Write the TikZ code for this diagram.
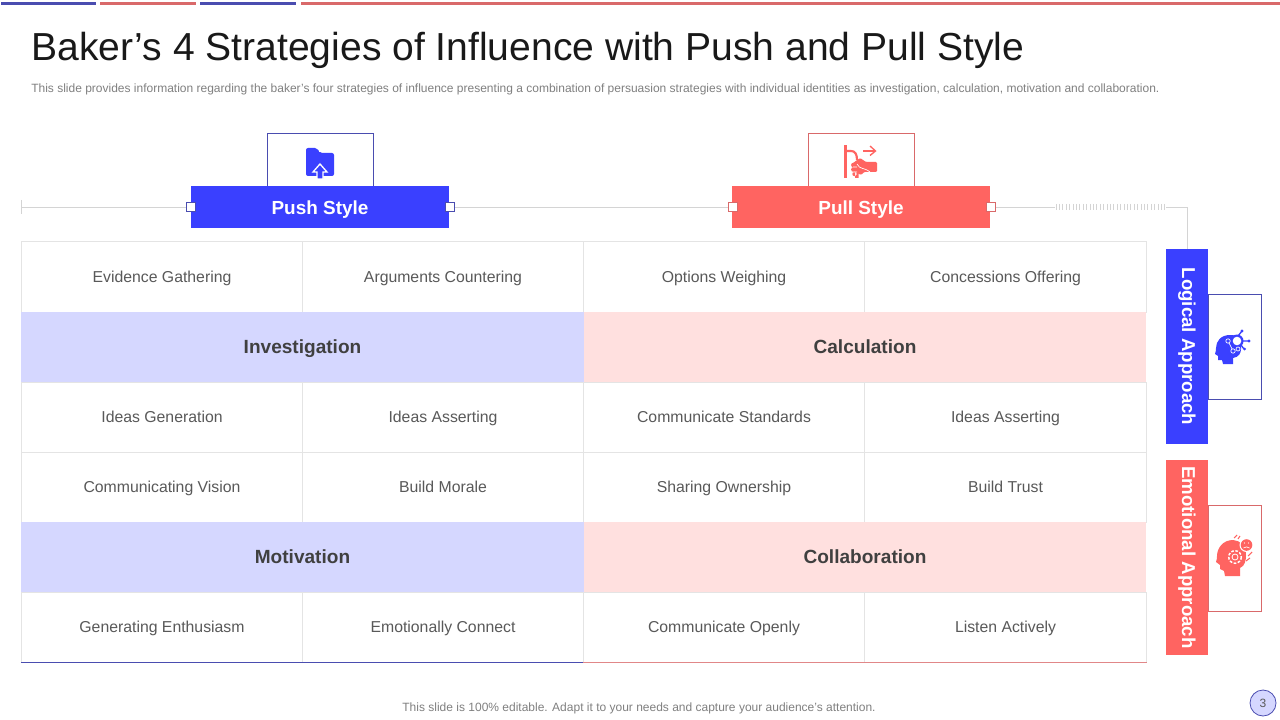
\documentclass[tikz,border=0pt]{standalone}
\usepackage{fontspec}
\setmainfont{Liberation Sans}
\definecolor{bluemain}{HTML}{3A40FF}
\definecolor{redmain}{HTML}{FF6461}
\definecolor{bluedark}{HTML}{4A4DB0}
\definecolor{reddark}{HTML}{D9696A}
\definecolor{bluelight}{HTML}{D5D7FF}
\definecolor{redlight}{HTML}{FFE0DF}
\definecolor{gridc}{HTML}{E4E4E4}
\definecolor{linec}{HTML}{D4D4D4}
\definecolor{textc}{HTML}{595959}
\definecolor{headc}{HTML}{404040}
\definecolor{subc}{HTML}{7F7F7F}
\tikzset{
  x=0.75pt,y=-0.75pt,
  cell/.style={draw=gridc,line width=0.75pt,fill=white,minimum width=281.25*0.75pt,minimum height=70*0.75pt,inner sep=0pt,text=textc,text height=11.2pt,text depth=2.5pt,font=\fontsize{11.85pt}{14pt}\selectfont,anchor=center},
  headbox/.style={minimum width=562.5*0.75pt,minimum height=70*0.75pt,inner sep=0pt,text=headc,text height=12.7pt,text depth=3pt,font=\fontsize{14.3pt}{17pt}\selectfont\bfseries,anchor=center},
  stylebox/.style={minimum width=258*0.75pt,minimum height=42*0.75pt,inner sep=0pt,text=white,text height=14.3pt,text depth=3pt,font=\fontsize{14.2pt}{17pt}\selectfont\bfseries,anchor=center},
  appbox/.style={minimum width=195*0.75pt,minimum height=42*0.75pt,inner sep=0pt,text=white,rotate=-90,text height=10.5pt,text depth=3pt,font=\fontsize{14pt}{17pt}\selectfont\bfseries,anchor=center},
  iconframe/.style={fill=white,line width=0.7pt,inner sep=0pt,anchor=center},
  port/.style={fill=white,line width=0.6pt,minimum size=9*0.75pt,inner sep=0pt,anchor=center},
  conn/.style={draw=linec,line width=0.6pt},
  topbar/.style={line width=2.4pt},
}
\begin{document}
\begin{tikzpicture}
\useasboundingbox (0,0) rectangle (1280,720);
% top bars
\draw[topbar,bluedark] (1,3.8) -- (96,3.8);
\draw[topbar,reddark] (100,3.8) -- (196,3.8);
\draw[topbar,bluedark] (200,3.8) -- (296,3.8);
\draw[topbar,reddark] (301,3.8) -- (1280,3.8);
% title
\node[anchor=west,inner sep=0pt,text=black!90,font=\fontsize{29.3pt}{34pt}\selectfont] (title) at (31,50.5) {Baker’s 4 Strategies of Influence with Push and Pull Style};
\node[anchor=west,inner sep=0pt,text=subc,font=\fontsize{9pt}{11pt}\selectfont] (sub) at (31,89.5) {This slide provides information regarding the baker’s four strategies of influence presenting a combination of persuasion strategies with individual identities as investigation, calculation, motivation and collaboration.};
% icon frames
\node[iconframe,draw=bluedark,minimum width=106*0.75pt,minimum height=53*0.75pt] (pushframe) at (320,159.5) {};
\node[iconframe,draw=reddark,minimum width=106*0.75pt,minimum height=53*0.75pt] (pullframe) at (861,159.5) {};
\node[iconframe,draw=bluedark,minimum width=53*0.75pt,minimum height=105*0.75pt] (logframe) at (1234.5,346.5) {};
\node[iconframe,draw=reddark,minimum width=53*0.75pt,minimum height=106*0.75pt] (emoframe) at (1234.5,558) {};
% style boxes
\node[stylebox,fill=bluemain] (push) at (320,207) {Push Style};
\node[stylebox,fill=redmain] (pull) at (861,207) {Pull Style};
\node[appbox,fill=bluemain] (logical) at (1187,346.5) {Logical Approach};
\node[appbox,fill=redmain] (emotional) at (1187,557.5) {Emotional Approach};
% connectors
\coordinate (lstart) at (21,207);
\coordinate (corner) at (1187,207);
\draw[conn] (21,200) -- (21,214);
\draw[conn] (lstart) -- (push.west);
\draw[conn] (push.east) -- (pull.west);
\draw[conn] (pull.east) -- (corner) -- (logical.west);
\fill[white] (1055,203) rectangle (1166,211);
\foreach \i in {0,...,32} {\draw[linec,line width=0.5pt] ({1056+3.4*\i},204) -- ({1056+3.4*\i},210);}
% ports
\node[port,draw=bluedark] (p1) at (191,207) {};
\node[port,draw=bluedark] (p2) at (449.5,207) {};
\node[port,draw=reddark] (p3) at (732.5,207) {};
\node[port,draw=reddark] (p4) at (991,207) {};
% table
\foreach \n/\x/\y/\t in {
a1/162/277/Evidence Gathering, a2/443/277/Arguments Countering, a3/724/277/Options Weighing, a4/1005.5/277/Concessions Offering,
b1/162/417/Ideas Generation, b2/443/417/Ideas Asserting, b3/724/417/Communicate Standards, b4/1005.5/417/Ideas Asserting,
c1/162/487/Communicating Vision, c2/443/487/Build Morale, c3/724/487/Sharing Ownership, c4/1005.5/487/Build Trust,
d1/162/627/Generating Enthusiasm, d2/443/627/Emotionally Connect, d3/724/627/Communicate Openly, d4/1005.5/627/Listen Actively}
{\node[cell] (\n) at (\x,\y) {\t};}
\node[headbox,fill=bluelight] (inv) at (302.5,347) {Investigation};
\node[headbox,fill=redlight] (calc) at (865,347) {Calculation};
\node[headbox,fill=bluelight] (mot) at (302.5,557) {Motivation};
\node[headbox,fill=redlight] (coll) at (865,557) {Collaboration};
\draw[bluedark,line width=0.9pt] (d1.south west) -- (d2.south east);
\draw[reddark!80,line width=0.9pt] (d3.south west) -- (d4.south east);
% footer
\node[anchor=center,inner sep=0pt,text=subc,font=\fontsize{9pt}{11pt}\selectfont] (foot) at (639,708) {This slide is 100\% editable. Adapt it to your needs and capture your audience's attention.};
\node[circle,draw=bluedark,fill=bluelight,line width=0.6pt,minimum size=26*0.75pt,inner sep=0pt,text=textc,font=\fontsize{9pt}{11pt}\selectfont] (page) at (1263,703) {3};
% folder icon
\fill[bluemain,rounded corners=1.5] (306,148) -- (317,148) -- (320,153) -- (334,153) -- (334,176) -- (306,176) -- cycle;
\draw[white,line width=0.7pt] (319,151) -- (334,151);
\fill[bluemain] (316,150) -- (320,153) -- (316,153) -- cycle;
\draw[white,line width=1pt,fill=bluemain,line join=miter] (320,164) -- (327,172) -- (323,172) -- (323,179) -- (317,179) -- (317,172) -- (313,172) -- cycle;
\fill[white] (306,178) rectangle (316,179);
% pull icon
\fill[redmain] (844,145) rectangle (846.5,178);
\draw[redmain,line width=1.6pt] (846,151) -- (851,151) .. controls (855,151) and (857,154) .. (857,160);
\draw[redmain,line width=1pt] (863,151) -- (875,151);
\draw[redmain,line width=1pt] (870,146) -- (875.5,151) -- (870,155.5);
\fill[redmain,rounded corners=0.8] (860,158) -- (866,162) -- (877,162) -- (877,172) -- (864,172) -- (861,175) -- (855,172) -- (853,163) -- cycle;
\fill[redmain] (853.5,165) circle (2.4) (853.5,169.5) circle (2.4) (854.5,174) circle (2.2) (855,172) rectangle (858.5,178);
\draw[white,line width=0.5pt] (853,167) -- (857,167) (853,172) -- (857,172) (857,164) .. controls (860,170) and (864,167) .. (870,172);
% logical head
\fill[bluemain] (1230,335) .. controls (1221,335) and (1216,341) .. (1216,348) .. controls (1216,350) and (1216,351) .. (1215,354) -- (1218,356) -- (1218,360) -- (1222,360) -- (1223,364) -- (1233,364) -- (1233,358) .. controls (1239,357) and (1241,353) .. (1241,349) -- (1241,338) .. controls (1238,336) and (1234,335) .. (1230,335) -- cycle;
\fill[bluemain] (1237,341) circle (6.5);
\fill[white] (1237,341) circle (4.3);
\draw[bluemain,line width=1pt] (1238,336) -- (1242,331) (1242,341) -- (1248,341) (1241,345) -- (1244,349);
\fill[bluemain] (1242,331) circle (1.7) (1249,341) circle (1.7) (1244.5,349) circle (1.5);
\draw[white,line width=0.5pt] (1228,341) circle (2.2) (1233,351) circle (2.2) (1238,349) circle (2) (1229,343) -- (1232,349);
% emotional head
\fill[redmain] (1233,540) .. controls (1223,540) and (1217,548) .. (1217,556) .. controls (1217,558) and (1217,559) .. (1216,562) -- (1220,565) -- (1220,569) -- (1224,571) -- (1225,576) -- (1240,576) -- (1240,568) .. controls (1245,566) and (1246,560) .. (1246,555) .. controls (1246,547) and (1240,540) .. (1233,540) -- cycle;
\fill[white] (1246.5,545) circle (7);
\fill[redmain] (1246.5,545) circle (5.8);
\draw[white,line width=0.5pt] (1243.5,548) .. controls (1245,546.5) and (1248,546.5) .. (1249.5,548);
\fill[white] (1244.5,543) circle (0.7) (1248.5,543) circle (0.7);
\draw[white,line width=1.1pt,dash pattern=on 2pt off 1.2pt] (1235,557) circle (6.3);
\draw[white,line width=0.6pt] (1235,557) circle (3);
\draw[redmain,line width=0.8pt] (1234,538) -- (1237,535) (1238,539) -- (1240,536) (1248,556) -- (1252,552) (1246,561) -- (1250,558);
\end{tikzpicture}
\end{document}
